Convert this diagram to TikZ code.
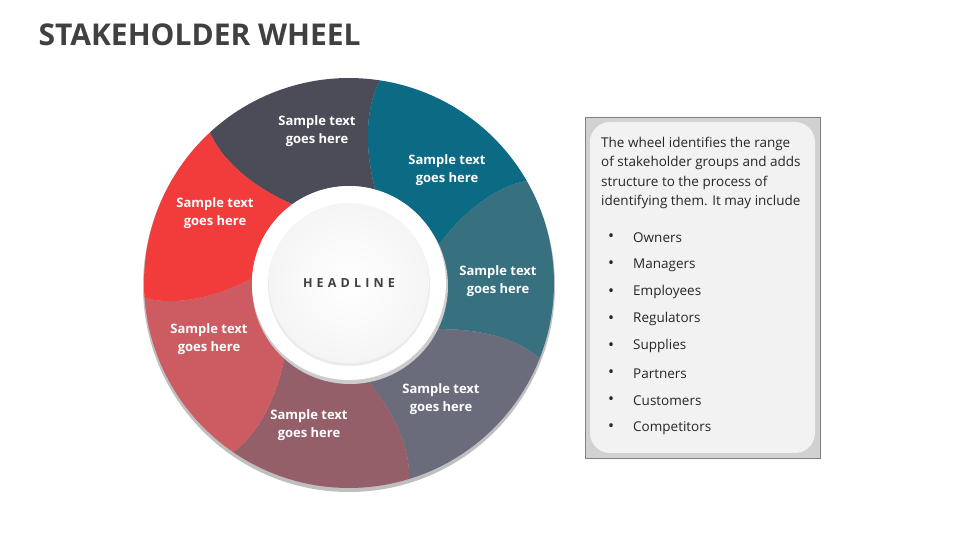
\documentclass[tikz,border=0pt]{standalone}
\usepackage{fontspec}
\setmainfont{Open Sans}
\usetikzlibrary{shadows}
\definecolor{cA}{HTML}{4B4C58}
\definecolor{cB}{HTML}{0B6B85}
\definecolor{cC}{HTML}{37707F}
\definecolor{cD}{HTML}{6A6C7C}
\definecolor{cE}{HTML}{955F6A}
\definecolor{cF}{HTML}{CC5C61}
\definecolor{cG}{HTML}{F23B3B}
\definecolor{ttl}{HTML}{404040}
\tikzset{segtext/.style={text=white,font=\bfseries\fontsize{13}{18}\selectfont,align=center},
 bul/.style={anchor=west,font=\fontsize{13.5}{15}\selectfont,text=black!85}}
\begin{document}
\begin{tikzpicture}[x=1pt,y=1pt]
\useasboundingbox (0,0) rectangle (960,540);
\fill[white] (0,0) rectangle (960,540);
\node[anchor=west,font=\bfseries\fontsize{30}{34}\selectfont,text=ttl] (title) at (35,505) {STAKEHOLDER WHEEL};
\begin{scope}[shift={(349,257)}]
\fill[black!25] (0,-3) circle (206pt);
\foreach \c/\col in {102/cA,50.57/cB,-0.86/cC,-52.29/cD,-103.71/cE,-155.14/cF,153.43/cG}{
 \pgfmathsetmacro\hi{\c+25.714}
 \pgfmathsetmacro\lo{\c-25.714}
 \fill[\col] (\hi-2:97pt) .. controls (\hi+8:140pt) and (\hi+8:180pt) .. (\hi+5:205pt)
   arc[start angle=\hi+5,end angle=\lo+5,radius=205pt]
   .. controls (\lo+8:180pt) and (\lo+8:140pt) .. (\lo-2:97pt)
   arc[start angle=\lo-2,end angle=\hi-2,radius=97pt] -- cycle;
}
\fill[black!20] (1,-3) circle (98pt);
\fill[white] (0,0) circle (97pt);
\fill[black!8] (0,-2) circle (81pt);
\shade[inner color=white,outer color=black!4] (0,0) circle (80pt);
\node[font=\bfseries\fontsize{12.5}{16}\selectfont,text=ttl] (head) at (0,0) {H\,\,E\,\,A\,\,D\,\,L\,\,I\,\,N\,\,E};
\node[segtext] (s1) at (-32,152) {Sample text\\goes here};
\node[segtext] (s2) at (98,113) {Sample text\\goes here};
\node[segtext] (s3) at (149,2) {Sample text\\goes here};
\node[segtext] (s4) at (92,-116) {Sample text\\goes here};
\node[segtext] (s5) at (-40,-142) {Sample text\\goes here};
\node[segtext] (s6) at (-140,-56) {Sample text\\goes here};
\node[segtext] (s7) at (-134,70) {Sample text\\goes here};
\end{scope}
\draw[black!50,fill=black!18] (585,82) rectangle (820,423);
\fill[black!5,rounded corners=20pt] (590,87) rectangle (815,418);
\node[anchor=north west,align=left,font=\fontsize{13.5}{19.3}\selectfont,text=black!85,inner sep=0] (para) at (601,403) {The wheel identifies the range\\of stakeholder groups and adds\\structure to the process of\\identifying them. It may include};
\foreach \t [count=\i] in {Owners,Managers,Employees,Regulators,Supplies,Partners,Customers,Competitors}{
 \node[bul,inner sep=0] (b\i) at (633,540-238-27.1*\i+27.1) {\t};
 \node[text=black!85,font=\fontsize{16}{16}\selectfont,inner sep=0] (d\i) at (611,540-238-27.1*\i+27.1) {•};
}
\end{tikzpicture}
\end{document}
